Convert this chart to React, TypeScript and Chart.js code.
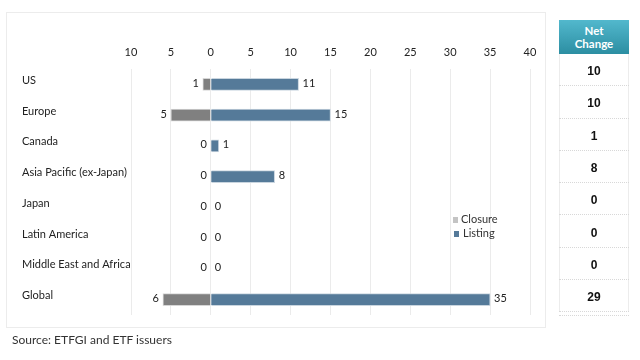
import React, { useEffect, useRef } from "react";
import { Chart, registerables } from "chart.js";

Chart.register(...registerables);

const categories = [
  "US",
  "Europe",
  "Canada",
  "Asia Pacific (ex-Japan)",
  "Japan",
  "Latin America",
  "Middle East and Africa",
  "Global",
];
const closures = [1, 5, 0, 0, 0, 0, 0, 6];
const listings = [11, 15, 1, 8, 0, 0, 0, 35];
const netChange = [10, 10, 1, 8, 0, 0, 0, 29];
const xTicks = [-10, -5, 0, 5, 10, 15, 20, 25, 30, 35, 40];

const FONT = "Lato, 'Open Sans', sans-serif";
const TEXT = "#222222";

const labelPlugin = {
  id: "barLabels",
  afterDatasetsDraw(chart: any) {
    const ctx = chart.ctx;
    ctx.save();
    ctx.font = `11px ${FONT}`;
    ctx.fillStyle = TEXT;
    ctx.textBaseline = "middle";
    chart.data.datasets.forEach((ds: any, di: number) => {
      const meta = chart.getDatasetMeta(di);
      meta.data.forEach((el: any, i: number) => {
        const v = Math.abs(ds.data[i]);
        if (di === 0) {
          ctx.textAlign = "right";
          ctx.fillText(String(v), Math.min(el.x, el.base) - 4, el.y - 1);
        } else {
          ctx.textAlign = "left";
          ctx.fillText(String(v), Math.max(el.x, el.base) + 4, el.y - 1);
        }
      });
    });
    // legend
    const lx = 453;
    const ly = 219;
    ctx.textAlign = "left";
    ctx.fillStyle = "#c4c4c4";
    ctx.fillRect(lx, ly - 2, 5, 6);
    ctx.fillStyle = "#557a99";
    ctx.fillRect(lx + 1, ly + 12, 5, 6);
    ctx.fillStyle = "#333333";
    ctx.font = `11px ${FONT}`;
    ctx.fillText("Closure", lx + 8, ly);
    ctx.fillText("Listing", lx + 10, ly + 14);
    ctx.restore();
  },
};

export default function App() {
  const ref = useRef<HTMLCanvasElement | null>(null);
  useEffect(() => {
    if (!ref.current) return;
    const chart = new Chart(ref.current, {
      type: "bar",
      data: {
        labels: categories,
        datasets: [
          {
            label: "Closure",
            data: closures.map((v) => -v),
            backgroundColor: "#808080",
            borderColor: "#d6d6d6",
            borderWidth: 1,
            barThickness: 12,
          },
          {
            label: "Listing",
            data: listings,
            backgroundColor: "#557a99",
            borderColor: "#c9d5df",
            borderWidth: 1,
            barThickness: 12,
          },
        ],
      },
      options: {
        indexAxis: "y",
        responsive: false,
        animation: false,
        layout: { padding: { left: 22, top: 39, right: 110, bottom: 45 } },
        plugins: { legend: { display: false }, tooltip: { enabled: false } },
        scales: {
          x: {
            position: "top",
            stacked: true,
            min: -10,
            max: 40,
            afterBuildTicks: (scale: any) => {
              scale.ticks = xTicks.map((v) => ({ value: v }));
            },
            afterFit: (scale: any) => {
              scale.height = 30;
            },
            ticks: {
              padding: 10,
              color: TEXT,
              font: { family: FONT, size: 11 },
              callback: (v: any) => String(Math.abs(Number(v))),
            },
            grid: { color: "#ebebeb", drawTicks: false },
            border: { display: false },
          },
          y: {
            stacked: true,
            afterFit: (scale: any) => {
              scale.width = 109;
            },
            ticks: {
              crossAlign: "far",
              labelOffset: -4,
              color: TEXT,
              font: { family: FONT, size: 11 },
            },
            grid: { display: false, drawTicks: false },
            border: { display: false },
          },
        },
      },
      plugins: [labelPlugin],
    });
    return () => chart.destroy();
  }, []);

  const rowTop = 54;
  const rowH = 32.3;

  return (
    <div
      style={{
        position: "fixed",
        left: 0,
        top: 0,
        width: 640,
        height: 360,
        background: "#fff",
        fontFamily: FONT,
      }}
    >
      <div
        style={{
          position: "absolute",
          left: 6,
          top: 12,
          width: 540,
          height: 316,
          border: "1px solid #ececec",
          boxSizing: "border-box",
        }}
      />
      <canvas
        ref={ref}
        width={640}
        height={360}
        style={{ position: "absolute", left: 0, top: 0 }}
      />
      <div
        style={{
          position: "absolute",
          left: 559,
          top: 20,
          width: 70,
          height: 34,
          background: "linear-gradient(#52b8cd, #2c8ea2)",
          color: "#fff",
          fontWeight: "bold",
          fontSize: 11.5,
          lineHeight: "13px",
          textAlign: "center",
          display: "flex",
          alignItems: "center",
          justifyContent: "center",
        }}
      >
        Net
        <br />
        Change
      </div>
      <div
        style={{
          position: "absolute",
          left: 559,
          top: rowTop,
          width: 70,
          height: 257,
          borderLeft: "1px solid #ececec",
          borderRight: "1px solid #ececec",
          boxSizing: "border-box",
        }}
      />
      {netChange.map((v, i) => (
        <div
          key={i}
          style={{
            position: "absolute",
            left: 559,
            top: rowTop + i * rowH,
            width: 70,
            height: rowH,
            paddingTop: 3,
            borderBottom: "1px dotted #d8d8d8",
            boxSizing: "border-box",
            display: "flex",
            alignItems: "center",
            justifyContent: "center",
            fontWeight: "bold",
            fontSize: 12,
            fontFamily: "'Liberation Sans', Arial, sans-serif",
            color: "#111",
          }}
        >
          {v}
        </div>
      ))}
      <div
        style={{
          position: "absolute",
          left: 559,
          top: 315,
          width: 70,
          borderTop: "1px dotted #d8d8d8",
        }}
      />
      <div
        style={{
          position: "absolute",
          left: 12,
          top: 332,
          fontSize: 12,
          color: "#333",
          whiteSpace: "nowrap",
        }}
      >
        Source: ETFGI and ETF issuers
      </div>
    </div>
  );
}
